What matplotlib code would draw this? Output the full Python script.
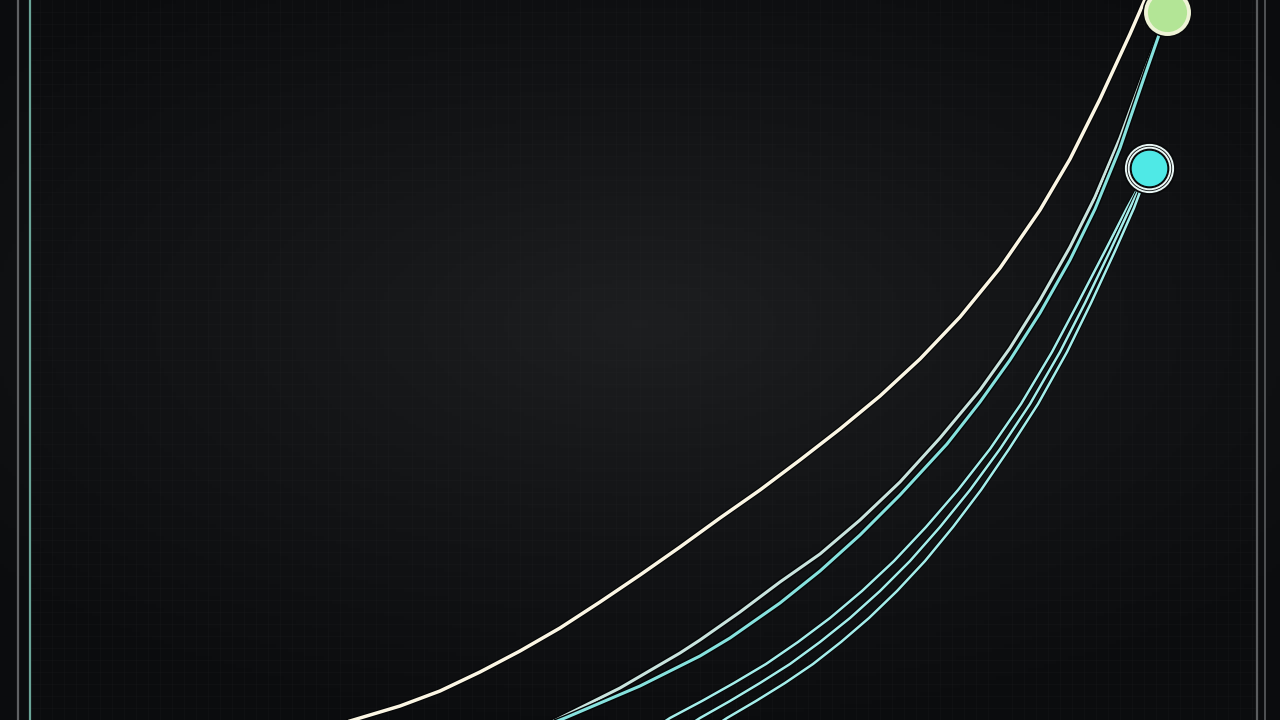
import numpy as np
import matplotlib
matplotlib.use("Agg")
import matplotlib.pyplot as plt
import matplotlib.patheffects as pe
from matplotlib.lines import Line2D

# series values (x, y in chart units)
white_x = [34.0, 36.0, 40.0, 44.0, 48.0, 52.0, 56.0, 60.0, 64.0, 68.0, 72.0, 76.0, 80.0, 84.0,
           88.0, 92.0, 96.0, 100.0, 104.0, 107.0, 110.0, 113.0, 115.0]
white_y = [-0.4, 0.2, 1.4, 2.9, 4.8, 6.9, 9.2, 11.8, 14.5, 17.3, 20.2, 23.0, 26.0, 29.1,
           32.4, 36.1, 40.3, 45.2, 51.0, 56.1, 62.1, 68.6, 73.2]

pair_a_x = [54.5, 56.0, 62.0, 68.0, 70.0, 74.0, 78.0, 82.0, 86.0, 90.0, 94.0, 98.0, 101.0,
            104.0, 107.0, 109.5, 112.0, 114.5, 116.7]
pair_a_y = [-0.55, 0.2, 3.2, 6.7, 8.0, 10.8, 13.8, 16.6, 20.0, 23.8, 28.2, 33.0, 37.2,
            42.0, 47.3, 52.3, 58.2, 65.0, 70.8]
pair_b_x = [55.0, 56.5, 64.0, 70.0, 73.0, 78.0, 82.0, 86.0, 90.0, 94.7, 98.0, 101.0, 104.0,
            107.0, 109.5, 112.0, 114.5, 116.7]
pair_b_y = [-0.4, 0.2, 3.4, 6.4, 8.2, 11.7, 14.9, 18.5, 22.5, 27.6, 31.8, 36.0, 40.7,
            46.0, 51.1, 57.2, 64.5, 70.8]

trip_y = [-1.0, 0.2, 1.9, 3.7, 5.6, 7.8, 10.2, 12.9, 15.9, 19.3, 23.0, 27.1, 31.6, 36.8,
          41.7, 46.9, 51.2, 55.2]
trip1_x = [65.2, 67.0, 70.2, 73.4, 76.6, 79.8, 83.0, 86.2, 89.4, 92.6, 95.8, 99.0, 102.1,
           105.2, 107.8, 110.5, 112.7, 114.9]
trip2_x = [68.2, 70.0, 73.0, 76.0, 79.0, 82.0, 85.0, 88.0, 91.0, 94.0, 97.0, 100.0, 103.0,
           106.0, 108.5, 111.0, 113.0, 114.9]
trip3_x = [70.9, 72.7, 75.6, 78.5, 81.3, 84.1, 86.9, 89.7, 92.5, 95.3, 98.1, 100.9, 103.8,
           106.7, 109.1, 111.5, 113.4, 114.9]

fig = plt.figure(figsize=(12.8, 7.2), dpi=100, facecolor="#0c0d0f")

# background glow
bg = fig.add_axes([0, 0, 1, 1], zorder=0)
gx, gy = np.meshgrid(np.linspace(-1, 1, 320), np.linspace(-1, 1, 180))
r = np.sqrt((gx * 1.0) ** 2 + ((gy + 0.1) * 1.15) ** 2)
glow = np.clip(1 - r / 1.35, 0, 1)
bg.imshow(glow, cmap=matplotlib.colors.LinearSegmentedColormap.from_list(
    "bg", ["#0b0c0e", "#131416", "#1d1e20"]), aspect="auto", extent=[0, 1, 0, 1])
bg.set_axis_off()

ax = fig.add_axes([30 / 1280, 0, 1227 / 1280, 1], zorder=1)
ax.patch.set_alpha(0)
ax.set_xlim(3.0, 125.7)
ax.set_ylim(0, 72)
ax.set_xticks(np.arange(4, 126, 1.2), minor=True)
ax.set_yticks(np.arange(0, 72, 1.2), minor=True)
ax.grid(which="minor", color="#2a2b2d", lw=0.4, alpha=0.25)
ax.tick_params(which="both", length=0, labelbottom=False, labelleft=False)
for s in ["top", "bottom"]:
    ax.spines[s].set_visible(False)
ax.spines["left"].set_color("#6aa497")
ax.spines["left"].set_linewidth(1.6)
ax.spines["right"].set_color("#5a5c5e")
ax.spines["right"].set_linewidth(1.6)

# outer frame rails
fig.add_artist(Line2D([18 / 1280] * 2, [0, 1], color="#5f6163", lw=1.6, zorder=2))
fig.add_artist(Line2D([1265 / 1280] * 2, [0, 1], color="#505254", lw=1.4, zorder=2))

outline = [pe.Stroke(linewidth=4.2, foreground="#050607"), pe.Normal()]
outline_thin = [pe.Stroke(linewidth=3.2, foreground="#050607"), pe.Normal()]

ax.plot(white_x, white_y, color="#fbf6e4", lw=2.5, path_effects=outline, zorder=3,
        solid_joinstyle="round")
ax.plot(pair_a_x, pair_a_y, color="#c9e4de", lw=2.2, path_effects=outline, zorder=3,
        solid_joinstyle="round")
ax.plot(pair_b_x, pair_b_y, color="#86e2de", lw=2.2, path_effects=outline, zorder=3,
        solid_joinstyle="round")
for tx in [trip1_x, trip2_x, trip3_x]:
    ax.plot(tx, trip_y, color="#a4eeeb", lw=1.8, path_effects=outline_thin, zorder=3,
            solid_joinstyle="round")

# end markers
gx_end, gy_end = pair_a_x[-1], pair_a_y[-1]
ax.plot(gx_end, gy_end, "o", ms=35, color="#08090a", zorder=5, clip_on=False)
ax.plot(gx_end, gy_end, "o", ms=31, mfc="#b3e596", mec="#eef3d6", mew=2.8, zorder=6, clip_on=False)

cx_end, cy_end = trip2_x[-1], trip_y[-1]
ax.plot(cx_end, cy_end, "o", ms=37, color="#08090a", zorder=5)
ax.plot(cx_end, cy_end, "o", ms=34, mfc="#08090a", mec="#e8f6f4", mew=1.4, zorder=6)
ax.plot(cx_end, cy_end, "o", ms=30, mfc="#08090a", mec="#e8f6f4", mew=1.4, zorder=7)
ax.plot(cx_end, cy_end, "o", ms=26.5, mfc="#4fe9e6", mec="#08090a", mew=0.8, zorder=8)

fig.savefig("out.png", dpi=100, facecolor=fig.get_facecolor())
